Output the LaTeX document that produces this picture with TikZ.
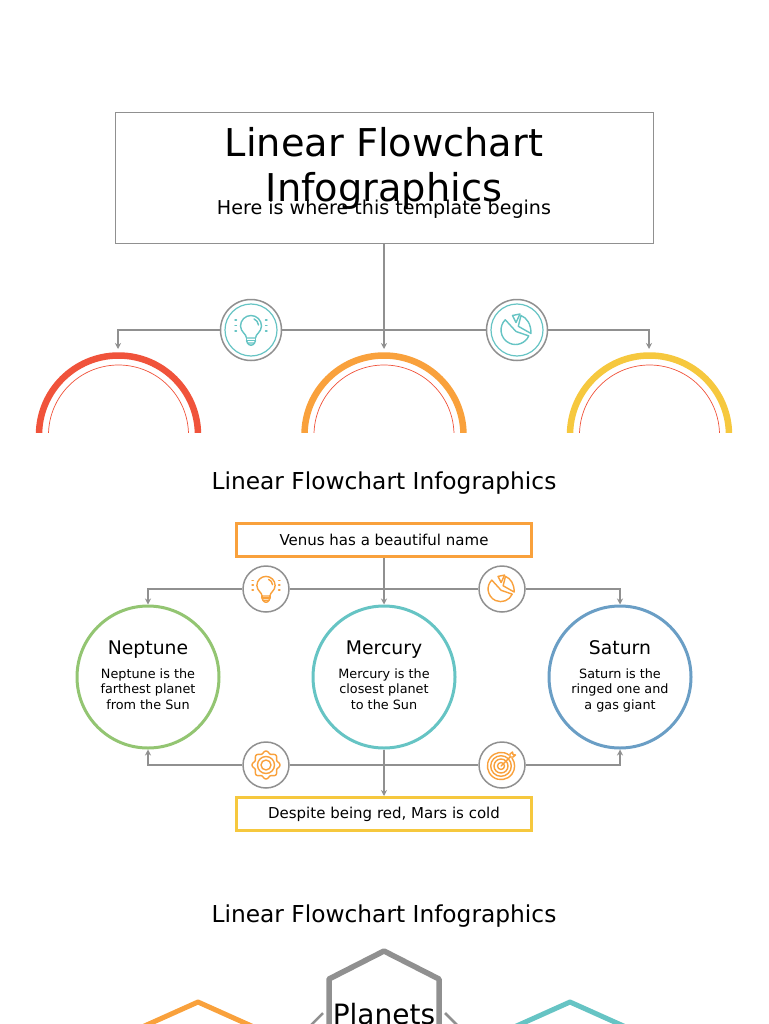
\documentclass[tikz,border=0pt]{standalone}
\usepackage{fontspec}
\setmainfont{DejaVu Sans}
\usetikzlibrary{arrows.meta}

\definecolor{linegray}{HTML}{909090}
\definecolor{arcred}{HTML}{F0533B}
\definecolor{arcorange}{HTML}{F9A13C}
\definecolor{arcyellow}{HTML}{F6C83E}
\definecolor{ringgreen}{HTML}{93C572}
\definecolor{ringteal}{HTML}{66C4C4}
\definecolor{ringblue}{HTML}{6A9EC5}

\tikzset{
	link/.style={draw=linegray, line width=1.5pt},
	linkarrow/.style={link, -{Stealth[length=6pt,width=6pt,inset=2pt]}},
	hub/.style={shape=circle, draw=linegray, line width=1.5pt, fill=white, inner sep=0pt, minimum size=46pt},
	bighub/.style={hub, minimum size=61pt},
	ring/.style={shape=circle, line width=3pt, fill=white, inner sep=0pt, minimum size=142pt},
	textbox/.style={shape=rectangle, line width=3pt, inner sep=0pt, minimum width=295pt, minimum height=33pt, font=\fontsize{15}{18}\selectfont},
	heading/.style={font=\fontsize{23.3}{28}\selectfont},
	ringtitle/.style={anchor=base, font=\fontsize{18.8}{22}\selectfont},
	ringtext/.style={anchor=north, align=center, font=\fontsize{12.8}{15.6}\selectfont},
	icon/.style={line width=1.4pt, line cap=round, line join=round},
	pics/bulbicon/.style={code={
		\draw[icon] (-4.5,8) .. controls (-4.5,4) and (-10.5,2) .. (-10.5,-4) arc[start angle=180, end angle=360, radius=10.5] .. controls (10.5,2) and (4.5,4) .. (4.5,8) -- cycle;
		\draw[icon] (3,-11) .. controls (5.5,-10) and (7,-8) .. (7.5,-5);
		\draw[icon] (-4.5,8) -- (-4.5,10.5) -- (4.5,10.5) -- (4.5,8);
		\draw[icon] (-4.5,10.5) -- (-3.5,13) -- (3.5,13) -- (4.5,10.5);
		\draw[icon] (-3.5,13) .. controls (-2,16) and (2,16) .. (3.5,13);
		\foreach \ry in {-10,-4.5,1} {
			\draw[icon] (-16,\ry) -- (-14.5,\ry);
			\draw[icon] (14.5,\ry) -- (16,\ry);
		}
	}},
	pics/pieicon/.style={code={
		\draw[icon] (11.75,5.9) arc[start angle=24, end angle=225, radius=14.5] -- (-1,1.5) -- cycle;
		\draw[icon] (-4.5,-14.5) -- (3,-16) -- (-1,-7.5) -- cycle;
		\draw[icon] (4,-14.5) .. controls (10,-12) and (14,-6) .. (14,3.5) -- (1.3,-3.7) -- cycle;
	}},
	pics/gearicon/.style={code={
		\draw[icon] plot[smooth cycle, samples=72, domain=0:355] ({(12.8+1.2*cos(8*\x))*cos(\x)}, {(12.8+1.2*cos(8*\x))*sin(\x)});
		\draw[icon] (0,0) circle (8.5);
		\draw[icon] (0,0) circle (5);
	}},
	pics/targeticon/.style={code={
		\draw[icon] (7,-10) arc[start angle=-54, end angle=-396, radius=13.6];
		\draw[icon] (-1,1) circle (10.3);
		\draw[icon] (-1,1) circle (7);
		\draw[icon] (-1,1) circle (3.5);
		\draw[icon] (-1,1) -- (8,-8);
		\draw[icon] (8,-8) -- (8,-11) -- (10.5,-13) -- (11,-10.5) -- (13.5,-10) -- (11,-8) -- cycle;
	}},
}

\begin{document}
\begin{tikzpicture}[x=1pt, y=-1pt]
	\useasboundingbox (0,0) rectangle (768,1024);
	\clip (0,0) rectangle (768,1024);

	% title block
	\node[shape=rectangle, draw=linegray, line width=0.8pt, inner sep=0pt, minimum width=538pt, minimum height=131pt] (titlebox) at (384,177.5) {};
	\node[align=center, font=\fontsize{38.3}{45}\selectfont] (titletext) at (384,168) {Linear Flowchart\\Infographics};
	\node[font=\fontsize{19.1}{23}\selectfont] (subtitle) at (384,209) {Here is where this template begins};

	\coordinate (arcA) at (118,349);
	\coordinate (arcB) at (384,349);
	\coordinate (arcC) at (649,349);
	\node[bighub] (bulbtop) at (251,330) {};
	\node[bighub] (pietop) at (517,330) {};

	\draw[linkarrow] (titlebox.south) -- (arcB);
	\draw[linkarrow] (bulbtop.west) -| (arcA);
	\draw[link] (bulbtop.east) -- (pietop.west);
	\draw[linkarrow] (pietop.east) -| (arcC);

	\node[shape=circle, draw=ringteal, line width=1.2pt, inner sep=0pt, minimum size=52pt] (bulbring) at (bulbtop) {};
	\node[shape=circle, draw=ringteal, line width=1.2pt, inner sep=0pt, minimum size=52pt] (piering) at (pietop) {};
	\pic[color=ringteal] at (bulbtop) {bulbicon};
	\pic[color=ringteal] at (pietop) {pieicon};

	% arches cut off at the bottom
	\begin{scope}
		\clip (0,0) rectangle (768,432.5);
		\foreach \cx/\col in {118.5/arcred,384/arcorange,649.5/arcyellow} {
			\draw[\col, line width=6.5pt] (\cx,435) circle (79.5);
			\draw[arcred, line width=0.7pt] (\cx,435) circle (70);
		}
	\end{scope}

	% second block
	\node[heading] (headone) at (384,483) {Linear Flowchart Infographics};
	\node[textbox, draw=arcorange] (venus) at (384,540) {Venus has a beautiful name};
	\node[textbox, draw=arcyellow] (mars) at (384,814) {Despite being red, Mars is cold};

	\node[ring, draw=ringgreen] (neptune) at (148,677) {};
	\node[ring, draw=ringteal] (mercury) at (384,677) {};
	\node[ring, draw=ringblue] (saturn) at (620,677) {};

	\node[hub] (bulbmid) at (266,589) {};
	\node[hub] (piemid) at (502,589) {};
	\node[hub] (gearmid) at (266,765) {};
	\node[hub] (targetmid) at (502,765) {};

	\draw[linkarrow] (venus.south) -- (mercury.north);
	\draw[linkarrow] (bulbmid.west) -| (neptune.north);
	\draw[link] (bulbmid.east) -- (piemid.west);
	\draw[linkarrow] (piemid.east) -| (saturn.north);
	\draw[linkarrow] (mercury.south) -- (mars.north);
	\draw[linkarrow] (gearmid.west) -| (neptune.south);
	\draw[link] (gearmid.east) -- (targetmid.west);
	\draw[linkarrow] (targetmid.east) -| (saturn.south);

	\pic[color=arcorange, scale=0.87] at (bulbmid) {bulbicon};
	\pic[color=arcorange, scale=0.87] at (piemid) {pieicon};
	\pic[color=arcorange] at (gearmid) {gearicon};
	\pic[color=arcorange] at (targetmid) {targeticon};

	\node[ringtitle] (neptunename) at (148,654) {Neptune};
	\node[ringtitle] (mercuryname) at (384,654) {Mercury};
	\node[ringtitle] (saturnname) at (620,654) {Saturn};
	\node[ringtext] (neptunetext) at (148,665) {Neptune is the\\farthest planet\\from the Sun};
	\node[ringtext] (mercurytext) at (384,665) {Mercury is the\\closest planet\\to the Sun};
	\node[ringtext] (saturntext) at (620,665) {Saturn is the\\ringed one and\\a gas giant};

	% third block
	\node[heading] (headtwo) at (384,916) {Linear Flowchart Infographics};
	\draw[linegray, line width=5.5pt, line join=round] (329,1050) -- (329,979) -- (384,951) -- (439,979) -- (439,1050);
	\draw[arcorange, line width=5pt, line join=round] (140,1028) -- (198,1002) -- (256,1028);
	\draw[ringteal, line width=5pt, line join=round] (512,1028) -- (570,1002) -- (628,1028);
	\coordinate (spokeAa) at (323,1013);
	\coordinate (spokeAb) at (309,1027);
	\coordinate (spokeBa) at (445,1013);
	\coordinate (spokeBb) at (459,1027);
	\draw[link, line width=2.5pt] (spokeAa) -- (spokeAb);
	\draw[link, line width=2.5pt] (spokeBa) -- (spokeBb);
	\node[font=\fontsize{28}{34}\selectfont] (planets) at (384,1014) {Planets};
\end{tikzpicture}
\end{document}
